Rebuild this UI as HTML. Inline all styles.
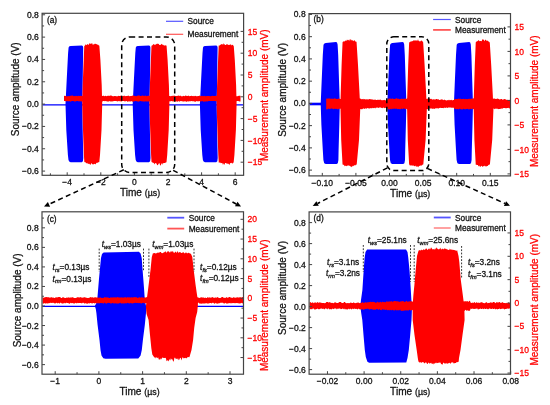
<!DOCTYPE html>
<html><head><meta charset="utf-8"><style>
html,body{margin:0;padding:0;background:#fff;overflow:hidden;}
text{stroke-width:0.28px;stroke-linejoin:round;}
svg{display:block;}
</style></head><body>
<svg width="550" height="405" viewBox="0 0 550 405" font-family='"Liberation Sans", Arial, sans-serif'>
<rect width="550" height="405" fill="#fff"/>
<line x1="42.60" y1="104.90" x2="243.00" y2="104.90" stroke="#0000ff" stroke-width="1.1" />
<polygon points="70.8,45.9 81.8,45.6 82.8,46.1 83.2,47.5 82.8,75.0 82.3,104.0 82.7,130.0 83.3,158.0 82.9,161.3 81.8,162.2 70.6,162.3 69.2,161.6 68.5,160.0 67.9,155.0 66.3,130.0 65.5,104.0 66.7,80.0 68.1,53.0 68.6,47.4 69.4,46.3 70.8,45.9" fill="#0000ff" />
<polygon points="138.0,45.9 149.0,45.6 150.0,46.1 150.4,47.5 150.0,75.0 149.5,104.0 149.9,130.0 150.5,158.0 150.1,161.3 149.0,162.2 137.8,162.3 136.4,161.6 135.7,160.0 135.1,155.0 133.5,130.0 132.7,104.0 133.9,80.0 135.3,53.0 135.8,47.4 136.6,46.3 138.0,45.9" fill="#0000ff" />
<polygon points="205.2,45.9 216.2,45.6 217.2,46.1 217.6,47.5 217.2,75.0 216.7,104.0 217.1,130.0 217.7,158.0 217.3,161.3 216.2,162.2 205.0,162.3 203.6,161.6 202.9,160.0 202.3,155.0 200.7,130.0 199.9,104.0 201.1,80.0 202.5,53.0 203.0,47.4 203.8,46.3 205.2,45.9" fill="#0000ff" />
<polygon points="64.0,96.0 64.8,95.8 65.6,95.9 66.4,96.3 67.2,96.3 68.0,96.2 68.8,96.0 69.6,96.2 70.4,95.8 71.2,95.8 72.0,95.5 72.8,95.6 73.6,96.2 74.4,96.1 75.2,96.2 76.0,95.8 76.8,95.9 77.6,96.3 78.4,95.8 79.2,96.0 80.0,95.9 80.8,95.7 81.7,96.1 82.5,95.9 83.3,95.7 84.1,95.5 84.9,96.0 85.7,96.2 86.5,96.3 87.3,95.7 88.1,95.6 88.9,95.7 89.7,95.8 90.5,95.6 91.3,95.9 92.1,96.3 92.9,95.8 93.7,95.6 94.5,96.0 95.3,96.3 96.1,96.2 96.9,96.3 97.7,96.2 98.5,96.0 99.3,96.2 100.1,95.9 100.9,95.6 101.7,96.1 102.5,96.0 103.3,95.5 104.1,96.2 104.9,96.1 105.7,95.8 106.5,96.3 107.3,96.0 108.1,95.5 108.9,95.9 109.7,95.8 110.5,95.6 111.3,95.6 112.1,96.0 112.9,96.2 113.7,96.3 114.5,96.1 115.3,96.0 116.1,96.3 117.0,96.2 117.8,96.3 118.6,95.8 119.4,96.1 120.2,96.0 121.0,95.6 121.8,95.9 122.6,96.2 123.4,96.0 124.2,95.6 125.0,96.3 125.8,95.9 126.6,95.9 127.4,95.9 128.2,95.6 129.0,96.1 129.8,96.2 130.6,95.9 131.4,96.0 132.2,95.7 133.0,95.6 133.8,95.6 134.6,96.1 135.4,96.0 136.2,96.3 137.0,96.1 137.8,95.5 138.6,95.6 139.4,95.5 140.2,96.1 141.0,96.1 141.8,95.8 142.6,95.6 143.4,95.8 144.2,96.2 145.0,95.6 145.8,95.7 146.6,96.2 147.4,96.0 148.2,95.5 149.0,96.0 149.8,95.7 150.6,96.2 151.4,95.6 152.2,96.2 153.1,95.5 153.9,96.0 154.7,96.2 155.5,95.5 156.3,95.9 157.1,96.0 157.9,95.6 158.7,96.1 159.5,96.1 160.3,96.1 161.1,96.2 161.9,96.0 162.7,95.8 163.5,96.0 164.3,95.9 165.1,95.9 165.9,95.9 166.7,96.3 167.5,96.2 168.3,95.7 169.1,96.0 169.9,95.9 170.7,96.2 171.5,96.1 172.3,95.7 173.1,95.9 173.9,95.6 174.7,95.8 175.5,95.9 176.3,95.9 177.1,95.9 177.9,95.7 178.7,95.5 179.5,95.9 180.3,95.6 181.1,96.2 181.9,96.2 182.7,96.2 183.5,95.7 184.3,96.2 185.1,95.8 185.9,95.6 186.7,96.1 187.6,96.0 188.4,95.5 189.2,96.2 190.0,95.9 190.8,96.1 191.6,95.7 192.4,95.9 193.2,96.3 194.0,95.8 194.8,96.2 195.6,95.7 196.4,96.2 197.2,96.3 198.0,96.1 198.8,96.0 199.6,95.6 200.4,96.2 201.2,95.8 202.0,96.2 202.8,95.7 203.6,96.2 204.4,95.8 205.2,96.2 206.0,96.2 206.8,95.9 207.6,95.9 208.4,96.1 209.2,95.9 210.0,96.2 210.8,96.3 211.6,96.1 212.4,95.7 213.2,95.9 214.0,96.0 214.8,96.1 215.6,95.7 216.4,96.1 217.2,95.6 218.0,95.6 218.8,95.9 219.6,96.0 220.4,95.7 221.2,96.0 222.0,95.7 222.8,96.0 223.7,96.3 224.5,96.2 225.3,96.1 226.1,96.2 226.9,95.6 227.7,96.1 228.5,96.1 229.3,96.2 230.1,96.1 230.9,95.5 231.7,96.1 232.5,96.1 233.3,96.3 234.1,95.9 234.9,96.1 235.7,96.3 236.5,96.2 237.3,96.3 238.1,96.1 238.9,95.8 239.7,95.7 240.5,95.7 240.5,101.6 239.7,101.4 238.9,101.3 238.1,101.1 237.3,100.9 236.5,101.2 235.7,101.1 234.9,101.3 234.1,101.3 233.3,101.2 232.5,101.2 231.7,101.7 230.9,101.3 230.1,101.7 229.3,101.3 228.5,101.3 227.7,101.1 226.9,101.4 226.1,101.6 225.3,101.0 224.5,101.5 223.7,101.0 222.8,101.2 222.0,101.4 221.2,101.6 220.4,101.7 219.6,101.3 218.8,101.6 218.0,101.2 217.2,101.0 216.4,101.3 215.6,101.3 214.8,100.9 214.0,100.9 213.2,101.0 212.4,101.1 211.6,101.1 210.8,101.1 210.0,101.0 209.2,101.1 208.4,101.0 207.6,101.6 206.8,101.2 206.0,101.6 205.2,101.6 204.4,101.5 203.6,101.7 202.8,101.2 202.0,100.9 201.2,101.5 200.4,101.6 199.6,101.1 198.8,101.6 198.0,101.0 197.2,101.5 196.4,101.1 195.6,101.7 194.8,101.7 194.0,101.3 193.2,101.2 192.4,101.3 191.6,100.9 190.8,101.2 190.0,101.2 189.2,101.2 188.4,101.6 187.6,101.3 186.7,101.7 185.9,101.7 185.1,101.0 184.3,101.5 183.5,101.6 182.7,101.4 181.9,101.1 181.1,101.3 180.3,101.0 179.5,101.7 178.7,101.1 177.9,101.6 177.1,101.7 176.3,101.3 175.5,101.5 174.7,101.3 173.9,101.3 173.1,101.5 172.3,101.3 171.5,101.1 170.7,101.3 169.9,101.5 169.1,101.3 168.3,101.3 167.5,101.3 166.7,101.5 165.9,101.0 165.1,100.9 164.3,101.3 163.5,101.6 162.7,101.6 161.9,101.3 161.1,101.6 160.3,101.2 159.5,101.4 158.7,101.1 157.9,101.1 157.1,101.6 156.3,101.6 155.5,101.4 154.7,100.9 153.9,101.3 153.1,101.4 152.2,101.6 151.4,101.5 150.6,101.0 149.8,101.0 149.0,101.7 148.2,101.2 147.4,101.5 146.6,101.5 145.8,101.3 145.0,101.5 144.2,101.4 143.4,101.5 142.6,101.3 141.8,101.6 141.0,101.1 140.2,101.1 139.4,101.2 138.6,101.7 137.8,101.3 137.0,101.5 136.2,101.1 135.4,100.9 134.6,101.3 133.8,101.5 133.0,101.5 132.2,101.7 131.4,101.1 130.6,101.5 129.8,101.5 129.0,101.2 128.2,101.5 127.4,101.7 126.6,100.9 125.8,101.0 125.0,101.7 124.2,101.0 123.4,101.1 122.6,101.0 121.8,101.3 121.0,101.7 120.2,101.0 119.4,101.2 118.6,101.0 117.8,101.6 117.0,101.2 116.1,101.0 115.3,100.9 114.5,101.0 113.7,101.0 112.9,101.4 112.1,101.2 111.3,101.5 110.5,101.5 109.7,100.9 108.9,101.4 108.1,101.5 107.3,101.4 106.5,101.2 105.7,101.1 104.9,101.3 104.1,101.1 103.3,101.0 102.5,101.6 101.7,101.2 100.9,101.6 100.1,101.6 99.3,101.3 98.5,101.6 97.7,101.1 96.9,101.5 96.1,101.0 95.3,101.3 94.5,101.4 93.7,101.1 92.9,101.7 92.1,101.5 91.3,101.4 90.5,101.7 89.7,101.3 88.9,101.4 88.1,101.2 87.3,101.4 86.5,101.4 85.7,101.3 84.9,101.5 84.1,101.0 83.3,101.1 82.5,101.6 81.7,101.4 80.8,101.5 80.0,101.1 79.2,101.4 78.4,101.2 77.6,101.1 76.8,101.0 76.0,101.2 75.2,101.4 74.4,101.6 73.6,101.0 72.8,101.1 72.0,100.9 71.2,101.2 70.4,101.7 69.6,101.1 68.8,101.6 68.0,101.0 67.2,101.2 66.4,101.3 65.6,101.2 64.8,101.0 64.0,101.0" fill="#ff0000" />
<polygon points="84.3,45.2 84.3,46.0 85.0,45.5 85.7,44.3 86.4,45.3 87.2,44.3 87.9,44.3 88.6,45.1 89.3,43.5 90.0,43.2 90.7,43.9 91.4,43.6 92.2,43.3 92.9,44.9 93.6,44.2 94.3,44.3 95.0,43.6 95.7,43.9 96.4,44.1 97.2,44.8 97.9,44.5 98.6,45.2 99.3,45.7 99.3,45.0 100.4,60.0 101.7,85.0 102.2,104.0 101.5,130.0 100.0,155.0 99.2,163.0 99.2,161.9 98.5,162.3 97.8,162.5 97.1,162.9 96.4,162.8 95.7,164.4 95.0,163.8 94.3,164.1 93.6,164.2 92.9,164.4 92.2,163.9 91.4,163.0 90.7,164.8 90.0,164.6 89.3,163.8 88.6,163.7 87.9,163.9 87.2,162.7 86.5,163.6 85.8,162.6 85.1,162.3 84.4,161.9 84.4,163.0 83.9,155.0 83.0,130.0 82.2,104.0 82.7,85.0 83.7,60.0 84.3,45.2" fill="#ff0000" />
<polygon points="151.5,45.2 151.5,45.7 152.2,45.6 152.9,44.8 153.6,44.0 154.4,44.7 155.1,44.8 155.8,44.5 156.5,43.9 157.2,43.6 157.9,43.9 158.6,43.8 159.4,45.0 160.1,44.9 160.8,44.8 161.5,43.7 162.2,44.8 162.9,44.4 163.6,45.3 164.4,45.4 165.1,45.4 165.8,45.2 166.5,45.7 166.5,45.0 167.6,60.0 168.9,85.0 169.4,104.0 168.7,130.0 167.2,155.0 166.4,163.0 166.4,162.3 165.7,162.4 165.0,163.0 164.3,163.1 163.6,163.3 162.9,162.9 162.2,164.7 161.5,163.1 160.8,165.4 160.1,165.3 159.4,163.0 158.6,163.8 157.9,164.9 157.2,165.3 156.5,163.6 155.8,163.2 155.1,163.0 154.4,164.4 153.7,162.7 153.0,163.1 152.3,162.3 151.6,162.1 151.6,163.0 151.1,155.0 150.2,130.0 149.4,104.0 149.9,85.0 150.9,60.0 151.5,45.2" fill="#ff0000" />
<polygon points="218.7,45.2 218.7,45.5 219.4,45.7 220.1,44.6 220.8,44.9 221.6,43.9 222.3,44.1 223.0,44.9 223.7,43.3 224.4,44.3 225.1,45.0 225.8,45.0 226.6,44.2 227.3,44.3 228.0,44.7 228.7,45.0 229.4,44.7 230.1,44.9 230.8,44.0 231.6,45.4 232.3,44.7 233.0,44.9 233.7,46.2 233.7,45.0 234.8,60.0 236.1,85.0 236.6,104.0 235.9,130.0 234.4,155.0 233.6,163.0 233.6,162.6 232.9,163.0 232.2,163.7 231.5,162.8 230.8,163.1 230.1,163.3 229.4,165.1 228.7,164.0 228.0,163.5 227.3,163.7 226.6,163.4 225.8,163.0 225.1,163.1 224.4,164.9 223.7,163.3 223.0,164.9 222.3,163.0 221.6,163.0 220.9,163.2 220.2,162.6 219.5,162.5 218.8,162.7 218.8,163.0 218.3,155.0 217.4,130.0 216.6,104.0 217.1,85.0 218.1,60.0 218.7,45.2" fill="#ff0000" />
<line x1="309.50" y1="104.00" x2="323.00" y2="104.00" stroke="#0000ff" stroke-width="2.6" />
<polygon points="325.8,43.0 336.0,42.0 337.0,42.6 337.6,44.5 338.2,55.0 339.0,80.0 339.8,104.0 339.3,125.0 338.6,150.0 338.4,160.0 337.8,163.2 336.6,164.0 325.8,164.1 324.2,163.2 323.4,160.0 322.8,150.0 321.4,125.0 320.7,104.0 321.5,85.0 322.8,55.0 323.5,44.8 324.4,43.5 325.8,43.0" fill="#0000ff" />
<polygon points="392.4,43.0 402.6,42.0 403.6,42.6 404.2,44.5 404.8,55.0 405.6,80.0 406.4,104.0 405.9,125.0 405.2,150.0 405.0,160.0 404.4,163.2 403.2,164.0 392.4,164.1 390.8,163.2 390.0,160.0 389.4,150.0 388.0,125.0 387.3,104.0 388.1,85.0 389.4,55.0 390.1,44.8 391.0,43.5 392.4,43.0" fill="#0000ff" />
<polygon points="459.0,43.0 469.2,42.0 470.2,42.6 470.8,44.5 471.4,55.0 472.2,80.0 473.0,104.0 472.5,125.0 471.8,150.0 471.6,160.0 471.0,163.2 469.8,164.0 459.0,164.1 457.4,163.2 456.6,160.0 456.0,150.0 454.6,125.0 453.9,104.0 454.7,85.0 456.0,55.0 456.7,44.8 457.6,43.5 459.0,43.0" fill="#0000ff" />
<polygon points="326.2,98.4 327.0,98.7 327.8,98.4 328.6,98.6 329.4,98.6 330.2,98.5 331.0,99.0 331.8,98.4 332.6,98.8 333.4,99.0 334.2,98.3 335.0,98.6 335.8,98.7 336.6,99.1 337.4,99.1 338.2,98.8 339.0,98.4 339.8,98.9 340.6,98.9 341.4,98.8 342.3,98.9 343.1,98.5 343.9,98.4 344.7,98.7 345.5,98.7 346.3,99.0 347.1,98.1 347.9,98.6 348.7,98.2 349.5,98.8 350.3,98.7 351.1,98.1 351.9,98.2 352.7,99.1 353.5,98.2 354.3,98.5 355.1,98.7 355.9,98.3 356.7,98.1 357.5,99.0 358.3,98.6 359.1,98.2 359.9,98.5 360.7,98.8 361.5,99.3 362.3,99.2 363.1,98.8 363.9,99.4 364.7,98.9 365.5,99.5 366.3,99.2 367.1,99.4 367.9,99.2 368.7,99.6 369.5,99.0 370.3,99.1 371.1,99.8 371.9,99.1 372.8,99.8 373.6,99.7 374.4,99.8 375.2,99.6 376.0,100.1 376.8,100.1 377.6,99.8 378.4,99.7 379.2,100.0 380.0,99.5 380.8,99.7 381.6,100.3 382.4,100.2 383.2,100.0 384.0,100.3 384.8,99.8 385.6,100.4 386.4,100.3 387.2,100.4 388.0,99.2 388.8,98.4 389.6,98.6 390.4,98.4 391.2,99.1 392.0,98.6 392.8,98.6 393.6,98.9 394.4,99.1 395.2,99.0 396.0,98.3 396.8,98.3 397.6,98.9 398.4,98.5 399.2,99.3 400.0,98.9 400.8,99.1 401.6,98.4 402.4,98.9 403.3,98.5 404.1,99.3 404.9,98.4 405.7,98.6 406.5,99.0 407.3,98.1 408.1,98.8 408.9,98.8 409.7,99.1 410.5,98.2 411.3,98.2 412.1,98.9 412.9,98.1 413.7,98.7 414.5,98.7 415.3,98.2 416.1,98.3 416.9,98.3 417.7,98.5 418.5,98.8 419.3,98.3 420.1,98.9 420.9,98.9 421.7,99.1 422.5,98.8 423.3,98.2 424.1,98.8 424.9,99.0 425.7,98.4 426.5,98.9 427.3,98.7 428.1,98.6 428.9,98.8 429.7,98.6 430.5,99.0 431.3,98.8 432.1,99.4 432.9,99.5 433.8,99.2 434.6,99.4 435.4,99.4 436.2,99.1 437.0,99.0 437.8,99.6 438.6,99.2 439.4,100.1 440.2,100.1 441.0,99.3 441.8,99.4 442.6,99.5 443.4,100.2 444.2,99.5 445.0,99.9 445.8,100.3 446.6,100.4 447.4,100.2 448.2,99.8 449.0,100.5 449.8,99.8 450.6,100.2 451.4,99.7 452.2,100.4 453.0,100.1 453.8,99.9 454.6,99.1 455.4,98.9 456.2,99.0 457.0,99.0 457.8,98.9 458.6,98.4 459.4,98.9 460.2,98.6 461.0,99.3 461.8,98.9 462.6,98.9 463.4,98.8 464.3,99.3 465.1,98.7 465.9,99.2 466.7,98.9 467.5,99.2 468.3,98.8 469.1,99.2 469.9,98.5 470.7,99.1 471.5,98.4 472.3,98.8 473.1,98.4 473.9,98.2 474.7,98.3 475.5,98.3 476.3,98.7 477.1,98.3 477.9,98.9 478.7,98.6 479.5,99.0 480.3,98.4 481.1,99.1 481.9,98.3 482.7,98.3 483.5,98.5 484.3,98.5 485.1,98.7 485.9,98.7 486.7,98.7 487.5,99.1 488.3,98.6 489.1,98.3 489.9,98.6 490.7,98.6 491.5,99.0 492.3,99.0 493.1,98.6 493.9,98.7 494.8,98.6 495.6,98.9 496.4,99.0 497.2,98.6 498.0,98.7 498.8,98.9 499.6,99.5 500.4,99.3 501.2,98.9 502.0,99.1 502.8,99.9 503.6,99.2 504.4,99.1 505.2,99.3 506.0,99.6 506.8,100.0 507.6,99.8 508.4,100.3 509.2,100.2 510.0,99.7 510.0,108.3 509.2,108.4 508.4,107.7 507.6,107.9 506.8,107.9 506.0,108.6 505.2,107.9 504.4,108.0 503.6,108.0 502.8,108.2 502.0,108.9 501.2,108.2 500.4,109.0 499.6,109.1 498.8,109.0 498.0,109.2 497.2,108.4 496.4,108.7 495.6,108.4 494.8,109.2 493.9,108.6 493.1,108.7 492.3,109.1 491.5,109.1 490.7,108.8 489.9,108.9 489.1,109.5 488.3,108.9 487.5,109.3 486.7,109.1 485.9,109.4 485.1,109.3 484.3,109.0 483.5,109.3 482.7,108.8 481.9,108.7 481.1,109.3 480.3,109.6 479.5,108.9 478.7,109.1 477.9,109.1 477.1,108.9 476.3,109.5 475.5,108.9 474.7,108.9 473.9,109.3 473.1,108.9 472.3,108.6 471.5,109.5 470.7,108.6 469.9,109.5 469.1,109.0 468.3,109.4 467.5,108.8 466.7,109.0 465.9,109.1 465.1,109.4 464.3,109.1 463.4,108.7 462.6,109.4 461.8,109.3 461.0,109.4 460.2,108.7 459.4,108.7 458.6,109.5 457.8,108.9 457.0,109.1 456.2,109.5 455.4,108.8 454.6,109.2 453.8,107.4 453.0,107.9 452.2,107.4 451.4,107.8 450.6,107.5 449.8,107.5 449.0,107.6 448.2,107.5 447.4,107.9 446.6,107.5 445.8,107.7 445.0,107.9 444.2,107.4 443.4,108.2 442.6,107.9 441.8,107.9 441.0,108.1 440.2,107.8 439.4,107.9 438.6,108.6 437.8,108.6 437.0,107.9 436.2,108.5 435.4,108.2 434.6,109.0 433.8,108.4 432.9,109.0 432.1,108.4 431.3,108.4 430.5,108.6 429.7,108.6 428.9,108.5 428.1,109.3 427.3,109.2 426.5,109.1 425.7,109.1 424.9,109.2 424.1,108.8 423.3,109.7 422.5,109.7 421.7,109.3 420.9,108.8 420.1,109.5 419.3,108.8 418.5,109.1 417.7,109.0 416.9,109.5 416.1,109.4 415.3,108.9 414.5,109.2 413.7,109.0 412.9,109.7 412.1,109.2 411.3,108.7 410.5,109.3 409.7,109.5 408.9,109.0 408.1,109.4 407.3,109.3 406.5,108.8 405.7,109.4 404.9,108.8 404.1,108.6 403.3,108.5 402.4,109.3 401.6,108.5 400.8,108.9 400.0,109.4 399.2,109.0 398.4,108.9 397.6,109.3 396.8,108.7 396.0,108.6 395.2,108.9 394.4,108.5 393.6,108.8 392.8,108.9 392.0,108.5 391.2,109.4 390.4,108.8 389.6,109.5 388.8,109.4 388.0,108.9 387.2,107.4 386.4,108.3 385.6,107.7 384.8,108.2 384.0,107.7 383.2,107.5 382.4,108.3 381.6,108.1 380.8,107.5 380.0,107.6 379.2,107.5 378.4,108.0 377.6,107.5 376.8,107.8 376.0,107.5 375.2,108.4 374.4,107.8 373.6,108.3 372.8,107.7 371.9,108.4 371.1,108.0 370.3,108.3 369.5,108.5 368.7,108.4 367.9,108.0 367.1,108.3 366.3,108.7 365.5,108.2 364.7,108.9 363.9,108.5 363.1,108.6 362.3,109.3 361.5,109.2 360.7,109.1 359.9,109.5 359.1,109.4 358.3,109.4 357.5,108.9 356.7,108.9 355.9,109.6 355.1,109.6 354.3,108.7 353.5,109.2 352.7,109.4 351.9,108.7 351.1,109.5 350.3,109.1 349.5,108.9 348.7,108.9 347.9,109.3 347.1,108.8 346.3,109.0 345.5,109.0 344.7,109.2 343.9,109.1 343.1,109.6 342.3,109.0 341.4,108.8 340.6,108.8 339.8,108.6 339.0,109.5 338.2,108.7 337.4,109.4 336.6,108.7 335.8,108.9 335.0,108.8 334.2,108.8 333.4,109.2 332.6,108.8 331.8,108.6 331.0,108.5 330.2,109.1 329.4,109.0 328.6,108.5 327.8,109.0 327.0,109.4 326.2,109.3" fill="#ff0000" />
<polygon points="342.6,41.2 342.6,42.3 343.3,41.2 344.1,41.7 344.8,41.0 345.5,40.5 346.3,40.9 347.0,39.6 347.7,40.3 348.5,40.2 349.2,39.2 349.9,41.1 350.6,38.9 351.4,40.1 352.1,40.8 352.8,40.0 353.6,41.2 354.3,40.0 355.0,41.1 355.8,41.7 356.5,41.8 356.5,41.2 358.0,65.0 359.6,95.0 360.2,110.0 359.0,140.0 356.6,165.4 356.6,164.4 355.9,164.7 355.2,165.6 354.5,165.0 353.8,166.3 353.1,165.4 352.4,166.3 351.7,167.3 351.0,166.3 350.3,166.6 349.6,165.8 348.9,165.4 348.2,165.4 347.5,165.5 346.8,166.2 346.1,165.7 345.4,165.7 344.7,166.2 344.0,164.9 343.3,164.8 342.6,164.6 342.6,165.4 341.2,140.0 340.4,104.0 341.6,65.0 342.6,41.2" fill="#ff0000" />
<polygon points="409.2,41.2 409.2,42.4 409.9,41.9 410.7,41.4 411.4,41.5 412.1,41.1 412.9,41.2 413.6,40.3 414.3,40.2 415.1,41.0 415.8,40.0 416.5,40.4 417.2,41.1 418.0,39.2 418.7,41.0 419.4,41.3 420.2,41.4 420.9,40.8 421.6,40.6 422.4,41.2 423.1,42.2 423.1,41.2 424.6,65.0 426.2,95.0 426.8,110.0 425.6,140.0 423.2,165.4 423.2,164.3 422.5,164.7 421.8,165.5 421.1,165.6 420.4,165.5 419.7,166.1 419.0,165.8 418.3,167.2 417.6,166.7 416.9,165.7 416.2,167.3 415.5,165.4 414.8,166.2 414.1,165.9 413.4,165.5 412.7,165.2 412.0,166.2 411.3,165.0 410.6,165.4 409.9,165.6 409.2,164.2 409.2,165.4 407.8,140.0 407.0,104.0 408.2,65.0 409.2,41.2" fill="#ff0000" />
<polygon points="475.8,41.2 475.8,42.3 476.5,41.4 477.3,41.2 478.0,40.8 478.7,40.1 479.5,41.2 480.2,40.9 480.9,40.9 481.7,41.2 482.4,39.2 483.1,39.5 483.8,39.8 484.6,41.3 485.3,39.6 486.0,40.1 486.8,40.9 487.5,40.6 488.2,41.3 489.0,41.8 489.7,42.4 489.7,41.2 491.2,65.0 492.8,95.0 493.4,110.0 492.2,140.0 489.8,165.4 489.8,164.3 489.1,164.7 488.4,165.1 487.7,165.9 487.0,166.1 486.3,166.6 485.6,166.4 484.9,165.6 484.2,166.2 483.5,166.0 482.8,166.9 482.1,166.2 481.4,165.7 480.7,166.4 480.0,167.1 479.3,165.4 478.6,166.4 477.9,165.0 477.2,165.0 476.5,164.8 475.8,164.7 475.8,165.4 474.4,140.0 473.6,104.0 474.8,65.0 475.8,41.2" fill="#ff0000" />
<line x1="42.60" y1="306.30" x2="243.00" y2="306.30" stroke="#0000ff" stroke-width="1.3" />
<polygon points="103.6,252.4 138.9,251.8 140.6,253.6 141.7,258.0 142.6,270.0 144.0,288.0 144.8,300.0 146.0,306.0 146.3,310.0 144.8,325.0 142.9,340.0 141.8,350.0 140.6,355.5 138.3,358.6 105.5,358.8 103.3,358.2 101.5,355.5 100.5,350.0 99.5,340.0 97.6,325.0 96.4,313.0 95.8,309.0 94.8,306.1 96.2,303.5 97.4,298.0 98.9,280.0 100.2,266.0 101.0,258.0 102.0,254.0 103.6,252.4" fill="#0000ff" />
<polygon points="42.6,297.1 43.4,297.7 44.2,297.7 45.0,297.1 45.8,297.3 46.6,297.0 47.4,297.2 48.2,297.2 49.0,297.3 49.8,297.8 50.6,297.4 51.4,297.1 52.2,298.1 53.0,297.1 53.8,297.9 54.6,298.1 55.4,297.4 56.2,297.3 57.0,297.5 57.8,297.2 58.6,297.1 59.4,297.1 60.2,297.1 61.0,297.9 61.8,298.1 62.6,297.2 63.4,297.2 64.2,297.8 65.0,298.0 65.8,297.9 66.6,297.6 67.4,297.8 68.3,297.3 69.1,297.7 69.9,297.5 70.7,297.4 71.5,297.6 72.3,297.2 73.1,297.3 73.9,297.9 74.7,298.0 75.5,297.9 76.3,297.9 77.1,297.0 77.9,297.6 78.7,297.2 79.5,297.6 80.3,297.2 81.1,297.1 81.9,297.9 82.7,297.6 83.5,297.4 84.3,297.2 85.1,297.2 85.9,297.7 86.7,297.7 87.5,298.0 88.3,298.1 89.1,297.8 89.9,297.5 90.7,297.1 91.5,297.6 92.3,297.3 93.1,297.4 93.9,297.7 94.7,297.2 95.5,297.3 96.3,297.6 97.1,297.5 97.9,297.6 98.7,297.8 99.5,297.8 100.3,297.2 101.1,297.9 101.9,297.7 102.7,297.9 103.5,297.9 104.3,297.3 105.1,297.0 105.9,297.7 106.7,297.2 107.5,297.6 108.3,297.4 109.1,297.9 109.9,298.1 110.7,297.2 111.5,297.5 112.3,297.6 113.1,297.4 113.9,297.3 114.7,297.6 115.5,297.3 116.3,297.8 117.1,297.1 118.0,297.3 118.8,297.4 119.6,297.6 120.4,297.4 121.2,297.6 122.0,297.3 122.8,297.8 123.6,297.6 124.4,297.6 125.2,297.1 126.0,297.4 126.8,297.7 127.6,297.0 128.4,297.5 129.2,297.2 130.0,297.5 130.8,297.5 131.6,297.3 132.4,297.4 133.2,297.5 134.0,297.1 134.8,297.3 135.6,297.3 136.4,297.0 137.2,298.0 138.0,297.7 138.8,297.6 139.6,297.3 140.4,297.8 141.2,297.3 142.0,297.5 142.8,297.2 143.6,297.9 144.4,297.2 145.2,297.4 146.0,297.5 146.8,297.0 147.6,297.4 148.4,297.2 149.2,297.8 150.0,298.0 150.8,297.7 151.6,297.8 152.4,297.8 153.2,297.9 154.0,297.3 154.8,297.8 155.6,297.6 156.4,297.4 157.2,297.7 158.0,297.2 158.8,297.2 159.6,297.2 160.4,297.2 161.2,298.1 162.0,297.1 162.8,297.8 163.6,297.9 164.4,297.2 165.2,297.9 166.0,297.2 166.8,297.1 167.6,297.2 168.5,297.1 169.3,297.2 170.1,297.3 170.9,297.3 171.7,297.1 172.5,297.8 173.3,297.9 174.1,298.0 174.9,297.9 175.7,297.6 176.5,297.2 177.3,297.2 178.1,297.5 178.9,297.2 179.7,297.6 180.5,298.0 181.3,297.4 182.1,297.4 182.9,297.1 183.7,297.0 184.5,297.6 185.3,298.1 186.1,297.4 186.9,297.2 187.7,297.6 188.5,297.3 189.3,297.6 190.1,297.5 190.9,297.8 191.7,297.7 192.5,297.8 193.3,297.0 194.1,297.2 194.9,297.8 195.7,297.5 196.5,297.2 197.3,297.3 198.1,297.5 198.9,297.8 199.7,297.9 200.5,297.4 201.3,297.2 202.1,297.4 202.9,297.4 203.7,297.4 204.5,297.9 205.3,297.6 206.1,298.0 206.9,298.1 207.7,297.1 208.5,297.7 209.3,297.2 210.1,297.8 210.9,297.6 211.7,297.6 212.5,297.1 213.3,297.5 214.1,298.0 214.9,297.5 215.7,297.6 216.5,297.7 217.3,297.1 218.2,297.6 219.0,298.0 219.8,297.9 220.6,298.1 221.4,297.3 222.2,297.0 223.0,297.1 223.8,298.1 224.6,297.8 225.4,297.9 226.2,297.2 227.0,297.2 227.8,298.0 228.6,297.3 229.4,297.1 230.2,297.0 231.0,298.1 231.8,297.4 232.6,298.0 233.4,297.3 234.2,297.2 235.0,298.0 235.8,297.5 236.6,297.4 237.4,297.2 238.2,297.4 239.0,297.6 239.8,297.2 240.6,297.2 241.4,297.8 242.2,297.0 243.0,297.2 243.0,303.1 242.2,303.5 241.4,302.8 240.6,303.3 239.8,303.7 239.0,303.1 238.2,303.4 237.4,303.1 236.6,302.9 235.8,303.2 235.0,303.1 234.2,303.2 233.4,302.9 232.6,303.0 231.8,303.6 231.0,302.7 230.2,303.5 229.4,303.0 228.6,303.2 227.8,303.4 227.0,303.5 226.2,303.5 225.4,302.8 224.6,303.5 223.8,303.5 223.0,302.8 222.2,302.8 221.4,302.8 220.6,302.7 219.8,302.9 219.0,303.4 218.2,303.2 217.3,303.8 216.5,303.4 215.7,302.7 214.9,303.7 214.1,303.6 213.3,302.7 212.5,302.8 211.7,303.4 210.9,303.1 210.1,303.0 209.3,303.3 208.5,303.6 207.7,303.4 206.9,303.6 206.1,302.9 205.3,303.5 204.5,303.4 203.7,303.4 202.9,303.5 202.1,303.4 201.3,303.7 200.5,303.4 199.7,303.7 198.9,302.7 198.1,302.8 197.3,303.7 196.5,302.7 195.7,303.4 194.9,303.0 194.1,303.1 193.3,303.4 192.5,303.3 191.7,303.3 190.9,303.6 190.1,303.6 189.3,303.2 188.5,302.9 187.7,303.3 186.9,303.1 186.1,303.1 185.3,303.5 184.5,303.7 183.7,303.3 182.9,303.1 182.1,303.5 181.3,302.7 180.5,303.4 179.7,303.8 178.9,303.1 178.1,303.4 177.3,303.2 176.5,302.7 175.7,303.3 174.9,303.2 174.1,303.2 173.3,303.2 172.5,303.0 171.7,303.3 170.9,303.2 170.1,303.3 169.3,302.9 168.5,303.6 167.6,303.4 166.8,303.4 166.0,302.9 165.2,303.7 164.4,303.1 163.6,303.0 162.8,302.8 162.0,303.4 161.2,302.7 160.4,303.4 159.6,302.9 158.8,303.7 158.0,302.8 157.2,303.7 156.4,303.4 155.6,303.2 154.8,303.0 154.0,303.0 153.2,302.7 152.4,303.2 151.6,303.1 150.8,303.6 150.0,303.6 149.2,303.3 148.4,303.2 147.6,303.6 146.8,303.1 146.0,302.9 145.2,303.2 144.4,303.6 143.6,302.8 142.8,303.1 142.0,302.9 141.2,303.7 140.4,302.9 139.6,303.1 138.8,303.2 138.0,302.7 137.2,303.0 136.4,303.1 135.6,302.8 134.8,303.1 134.0,302.9 133.2,303.2 132.4,303.6 131.6,303.3 130.8,303.3 130.0,302.8 129.2,303.7 128.4,302.9 127.6,302.7 126.8,303.2 126.0,303.6 125.2,302.9 124.4,303.4 123.6,303.4 122.8,303.2 122.0,303.4 121.2,303.6 120.4,302.8 119.6,303.0 118.8,303.4 118.0,303.6 117.1,303.6 116.3,303.5 115.5,303.2 114.7,303.3 113.9,303.7 113.1,303.1 112.3,302.9 111.5,303.4 110.7,303.5 109.9,303.1 109.1,303.1 108.3,302.8 107.5,302.9 106.7,303.5 105.9,303.8 105.1,302.8 104.3,302.8 103.5,303.8 102.7,303.1 101.9,303.3 101.1,303.0 100.3,302.9 99.5,303.5 98.7,302.9 97.9,303.7 97.1,302.8 96.3,303.6 95.5,302.9 94.7,303.4 93.9,302.9 93.1,303.1 92.3,303.5 91.5,303.3 90.7,303.0 89.9,303.1 89.1,303.7 88.3,302.9 87.5,303.7 86.7,303.7 85.9,303.1 85.1,303.4 84.3,303.5 83.5,302.8 82.7,302.8 81.9,303.5 81.1,303.0 80.3,303.0 79.5,303.1 78.7,302.9 77.9,303.2 77.1,302.7 76.3,303.5 75.5,302.7 74.7,303.6 73.9,303.6 73.1,303.3 72.3,303.1 71.5,303.2 70.7,302.7 69.9,303.6 69.1,303.8 68.3,303.1 67.4,303.0 66.6,302.7 65.8,303.1 65.0,303.5 64.2,302.8 63.4,303.4 62.6,303.4 61.8,303.6 61.0,302.8 60.2,302.8 59.4,303.7 58.6,302.8 57.8,303.6 57.0,303.1 56.2,302.8 55.4,303.5 54.6,303.5 53.8,302.7 53.0,303.1 52.2,302.8 51.4,302.9 50.6,302.8 49.8,302.9 49.0,303.3 48.2,303.2 47.4,303.5 46.6,303.2 45.8,303.4 45.0,303.4 44.2,303.0 43.4,303.7 42.6,303.5" fill="#ff0000" />
<polygon points="153.0,253.0 153.0,253.8 153.7,253.1 154.4,253.1 155.1,253.2 155.8,253.4 156.5,253.2 157.3,252.4 158.0,253.1 158.7,252.6 159.4,252.6 160.1,252.0 160.8,252.1 161.5,253.0 162.2,253.2 162.9,252.9 163.6,252.6 164.4,252.3 165.1,251.6 165.8,251.4 166.5,253.0 167.2,251.5 167.9,251.5 168.6,251.3 169.3,252.1 170.0,252.7 170.7,251.3 171.4,251.4 172.2,251.8 172.9,251.1 173.6,252.6 174.3,253.0 175.0,252.1 175.7,251.5 176.4,252.9 177.1,251.7 177.8,251.3 178.5,252.9 179.2,252.2 180.0,252.1 180.7,252.6 181.4,253.0 182.1,253.0 182.8,252.2 183.5,252.2 184.2,252.9 184.9,253.4 185.6,252.5 186.3,252.6 187.1,253.4 187.8,253.1 188.5,252.8 189.2,253.0 189.9,253.6 190.6,253.9 190.6,253.0 192.3,257.0 193.7,270.0 195.6,285.0 196.6,292.0 197.8,300.0 197.9,305.0 197.2,312.0 195.6,318.0 194.2,328.0 193.1,340.0 191.5,350.0 189.4,357.2 189.4,357.2 188.7,357.0 188.0,357.2 187.3,357.3 186.6,358.4 185.8,357.8 185.1,358.3 184.4,358.0 183.7,358.4 183.0,357.6 182.3,357.6 181.6,360.6 180.9,358.3 180.1,357.7 179.4,359.4 178.7,360.2 178.0,357.9 177.3,359.4 176.6,358.5 175.9,359.2 175.2,357.8 174.4,357.8 173.7,361.7 173.0,361.0 172.3,359.2 171.6,359.5 170.9,358.3 170.2,360.5 169.5,358.9 168.7,361.4 168.0,360.3 167.3,360.5 166.6,361.2 165.9,358.2 165.2,357.7 164.5,358.0 163.8,357.9 163.0,357.7 162.3,357.6 161.6,358.8 160.9,359.8 160.2,358.3 159.5,359.7 158.8,359.4 158.1,357.3 157.3,358.2 156.6,357.6 155.9,357.1 155.2,358.4 154.5,356.8 154.5,357.8 152.3,354.6 151.3,348.0 150.0,335.0 148.6,320.0 146.6,314.0 145.9,307.0 146.4,302.0 148.0,290.0 150.5,270.0 151.8,257.0 153.0,253.0" fill="#ff0000" />
<polygon points="367.1,249.6 406.0,249.6 407.5,252.0 408.3,258.0 409.5,270.0 410.5,285.0 411.4,300.0 412.0,306.5 411.8,313.0 411.5,320.0 410.2,335.0 408.8,350.0 407.5,358.0 406.3,362.5 369.2,362.7 367.4,361.8 365.8,357.0 364.8,350.0 363.5,335.0 362.3,320.0 361.2,313.0 360.4,306.5 361.0,300.0 362.4,290.0 363.7,270.0 364.6,258.0 365.5,252.0 367.1,249.6" fill="#0000ff" />
<polygon points="309.6,302.6 310.4,302.1 311.2,302.8 312.0,303.1 312.8,302.0 313.6,303.2 314.4,302.8 315.2,302.1 316.0,303.2 316.8,302.4 317.6,302.0 318.4,303.1 319.2,302.1 320.0,302.9 320.8,302.3 321.6,302.9 322.4,303.1 323.2,303.1 324.0,303.1 324.8,303.3 325.6,303.0 326.4,302.1 327.2,302.1 328.0,302.1 328.8,302.7 329.6,302.1 330.4,302.5 331.2,302.9 332.0,302.7 332.8,303.1 333.6,303.2 334.4,302.6 335.3,302.2 336.1,302.8 336.9,302.9 337.7,302.9 338.5,302.7 339.3,302.1 340.1,302.0 340.9,302.1 341.7,303.0 342.5,302.9 343.3,303.0 344.1,302.0 344.9,302.1 345.7,302.9 346.5,303.2 347.3,302.9 348.1,303.3 348.9,302.9 349.7,303.3 350.5,302.6 351.3,302.7 352.1,303.0 352.9,303.1 353.7,302.3 354.5,303.0 355.3,303.2 356.1,302.7 356.9,303.0 357.7,302.4 358.5,302.5 359.3,303.2 360.1,302.7 360.9,303.1 361.7,302.7 362.5,302.0 363.3,303.1 364.1,302.5 364.9,302.7 365.7,301.9 366.5,302.8 367.3,302.2 368.1,302.3 368.9,302.3 369.7,302.0 370.5,301.8 371.3,301.9 372.1,301.9 372.9,301.7 373.7,302.1 374.5,302.1 375.3,302.7 376.1,302.4 376.9,302.6 377.7,301.6 378.5,302.5 379.3,302.4 380.1,301.8 380.9,301.9 381.7,302.4 382.5,301.6 383.3,302.3 384.1,301.8 385.0,302.3 385.8,302.2 386.6,301.3 387.4,301.6 388.2,302.1 389.0,301.1 389.8,301.8 390.6,301.6 391.4,301.0 392.2,301.8 393.0,301.8 393.8,300.9 394.6,301.0 395.4,301.0 396.2,301.4 397.0,300.9 397.8,301.5 398.6,301.5 399.4,301.9 400.2,301.3 401.0,301.8 401.8,301.0 402.6,301.2 403.4,300.9 404.2,302.0 405.0,301.7 405.8,301.6 406.6,300.8 407.4,301.7 408.2,301.4 409.0,301.6 409.8,301.2 410.6,301.2 411.4,301.3 412.2,301.4 413.0,301.8 413.8,301.8 414.6,301.5 415.4,301.7 416.2,301.3 417.0,301.2 417.8,301.2 418.6,301.1 419.4,301.3 420.2,301.4 421.0,301.7 421.8,301.3 422.6,301.2 423.4,301.5 424.2,301.7 425.0,301.4 425.8,300.7 426.6,301.0 427.4,301.9 428.2,301.4 429.0,301.5 429.8,301.0 430.6,301.7 431.4,301.0 432.2,301.6 433.0,301.1 433.8,300.9 434.6,301.3 435.5,301.0 436.3,301.4 437.1,301.1 437.9,301.8 438.7,302.0 439.5,301.2 440.3,300.7 441.1,301.5 441.9,300.9 442.7,301.5 443.5,301.4 444.3,301.6 445.1,301.3 445.9,301.6 446.7,300.9 447.5,301.4 448.3,301.6 449.1,301.3 449.9,301.9 450.7,301.6 451.5,300.9 452.3,301.7 453.1,300.8 453.9,301.9 454.7,301.4 455.5,301.0 456.3,300.7 457.1,301.3 457.9,301.5 458.7,301.2 459.5,300.8 460.3,301.3 461.1,301.5 461.9,301.3 462.7,300.9 463.5,301.4 464.3,301.2 465.1,301.6 465.9,300.9 466.7,301.6 467.5,300.9 468.3,301.9 469.1,301.1 469.9,300.7 470.7,302.8 471.5,302.9 472.3,302.6 473.1,303.1 473.9,302.5 474.7,302.0 475.5,303.2 476.3,302.3 477.1,302.4 477.9,302.9 478.7,302.5 479.5,303.0 480.3,302.6 481.1,302.5 481.9,302.0 482.7,302.8 483.5,303.1 484.3,303.2 485.2,303.1 486.0,302.2 486.8,302.3 487.6,303.3 488.4,302.9 489.2,302.8 490.0,303.0 490.8,302.1 491.6,302.8 492.4,302.8 493.2,302.1 494.0,302.1 494.8,302.5 495.6,303.2 496.4,302.2 497.2,302.1 498.0,302.9 498.8,302.1 499.6,302.1 500.4,302.8 501.2,303.0 502.0,302.2 502.8,302.3 503.6,303.1 504.4,303.1 505.2,302.9 506.0,303.2 506.8,302.8 507.6,303.2 508.4,302.2 509.2,303.0 510.0,302.9 510.0,308.6 509.2,308.5 508.4,308.8 507.6,308.5 506.8,308.8 506.0,309.0 505.2,309.0 504.4,309.6 503.6,308.8 502.8,308.6 502.0,308.9 501.2,308.7 500.4,309.2 499.6,308.6 498.8,308.9 498.0,309.1 497.2,309.4 496.4,308.7 495.6,309.5 494.8,308.6 494.0,308.9 493.2,309.1 492.4,308.4 491.6,308.9 490.8,309.1 490.0,308.4 489.2,308.5 488.4,309.2 487.6,309.3 486.8,308.4 486.0,309.1 485.2,309.0 484.3,308.4 483.5,309.3 482.7,308.5 481.9,309.0 481.1,309.0 480.3,308.6 479.5,308.9 478.7,309.2 477.9,309.4 477.1,308.3 476.3,308.7 475.5,308.8 474.7,309.1 473.9,308.8 473.1,309.1 472.3,308.5 471.5,309.0 470.7,308.5 469.9,310.8 469.1,310.7 468.3,310.8 467.5,310.3 466.7,310.9 465.9,309.8 465.1,310.3 464.3,310.9 463.5,310.2 462.7,310.9 461.9,310.3 461.1,310.1 460.3,309.7 459.5,310.5 458.7,310.1 457.9,310.1 457.1,310.5 456.3,310.3 455.5,310.3 454.7,310.8 453.9,310.3 453.1,309.6 452.3,310.2 451.5,310.8 450.7,310.7 449.9,310.8 449.1,310.4 448.3,309.8 447.5,309.8 446.7,310.2 445.9,310.6 445.1,310.1 444.3,310.1 443.5,310.5 442.7,310.2 441.9,310.4 441.1,310.6 440.3,310.3 439.5,310.2 438.7,310.6 437.9,310.7 437.1,310.8 436.3,310.6 435.5,310.6 434.6,310.6 433.8,310.7 433.0,310.4 432.2,310.1 431.4,309.8 430.6,310.8 429.8,309.7 429.0,310.2 428.2,309.7 427.4,310.7 426.6,309.8 425.8,310.0 425.0,310.0 424.2,310.3 423.4,310.7 422.6,309.6 421.8,310.1 421.0,309.9 420.2,310.0 419.4,310.4 418.6,310.2 417.8,309.9 417.0,310.3 416.2,310.7 415.4,309.7 414.6,310.0 413.8,310.0 413.0,309.8 412.2,310.3 411.4,309.9 410.6,310.8 409.8,309.8 409.0,310.0 408.2,310.8 407.4,310.3 406.6,310.4 405.8,310.3 405.0,310.5 404.2,310.4 403.4,310.8 402.6,310.7 401.8,310.8 401.0,310.9 400.2,309.6 399.4,310.2 398.6,310.3 397.8,310.4 397.0,309.8 396.2,310.7 395.4,309.5 394.6,310.5 393.8,310.5 393.0,310.0 392.2,309.7 391.4,310.4 390.6,309.8 389.8,310.4 389.0,309.8 388.2,310.3 387.4,310.2 386.6,309.4 385.8,309.9 385.0,309.7 384.1,309.5 383.3,309.7 382.5,309.1 381.7,310.2 380.9,309.9 380.1,309.8 379.3,309.0 378.5,309.9 377.7,309.0 376.9,309.2 376.1,309.1 375.3,310.1 374.5,309.5 373.7,309.5 372.9,310.0 372.1,308.8 371.3,309.2 370.5,309.1 369.7,309.8 368.9,308.8 368.1,309.2 367.3,308.6 366.5,309.1 365.7,309.0 364.9,308.8 364.1,309.7 363.3,309.7 362.5,309.1 361.7,309.5 360.9,309.5 360.1,309.3 359.3,309.3 358.5,308.6 357.7,309.4 356.9,309.1 356.1,308.7 355.3,309.1 354.5,308.4 353.7,309.2 352.9,308.5 352.1,309.0 351.3,309.5 350.5,308.5 349.7,309.4 348.9,308.5 348.1,309.3 347.3,309.6 346.5,309.2 345.7,309.5 344.9,308.4 344.1,309.6 343.3,308.8 342.5,308.6 341.7,308.9 340.9,309.2 340.1,308.4 339.3,308.4 338.5,308.7 337.7,308.5 336.9,309.4 336.1,308.5 335.3,308.6 334.4,308.5 333.6,309.2 332.8,308.6 332.0,309.1 331.2,309.4 330.4,308.9 329.6,309.4 328.8,308.4 328.0,308.5 327.2,309.4 326.4,308.6 325.6,308.3 324.8,309.2 324.0,309.2 323.2,308.6 322.4,308.9 321.6,308.6 320.8,308.4 320.0,309.1 319.2,309.2 318.4,309.3 317.6,308.4 316.8,309.1 316.0,309.3 315.2,309.4 314.4,309.5 313.6,308.6 312.8,308.6 312.0,309.6 311.2,308.9 310.4,309.2 309.6,309.1" fill="#ff0000" />
<polygon points="418.8,249.8 418.8,251.0 419.5,250.1 420.2,250.3 420.9,250.4 421.6,249.5 422.3,250.3 423.0,250.1 423.8,248.9 424.5,250.1 425.2,249.6 425.9,248.5 426.6,248.5 427.3,249.9 428.0,249.5 428.7,248.5 429.4,249.4 430.1,247.5 430.8,249.6 431.5,247.3 432.2,248.9 432.9,249.5 433.7,249.0 434.4,249.7 435.1,248.1 435.8,249.4 436.5,247.3 437.2,248.5 437.9,249.1 438.6,249.4 439.3,248.4 440.0,249.5 440.7,247.4 441.4,249.7 442.1,248.8 442.9,248.7 443.6,249.5 444.3,248.0 445.0,249.3 445.7,248.5 446.4,248.9 447.1,249.5 447.8,249.4 448.5,250.0 449.2,249.9 449.9,248.4 450.6,249.8 451.3,249.2 452.0,250.2 452.8,249.6 453.5,250.0 454.2,249.9 454.9,250.3 455.6,250.6 456.3,250.5 457.0,250.9 457.0,249.8 458.5,256.0 459.3,262.0 460.8,280.0 462.8,295.0 463.8,303.0 464.4,310.0 464.6,320.0 462.5,335.0 460.5,350.0 459.0,358.0 458.6,362.6 458.6,361.4 457.9,362.3 457.2,362.0 456.5,362.2 455.8,363.1 455.1,363.0 454.4,363.3 453.7,363.4 453.0,362.3 452.3,362.5 451.6,362.3 450.9,363.4 450.2,363.4 449.5,362.8 448.8,363.0 448.1,363.6 447.4,363.7 446.7,362.8 446.0,364.3 445.3,363.0 444.6,363.7 443.9,362.7 443.2,362.7 442.5,364.8 441.8,364.2 441.1,364.1 440.4,362.6 439.7,362.6 439.0,362.8 438.2,362.8 437.5,363.0 436.8,363.2 436.1,362.6 435.4,363.0 434.7,363.9 434.0,362.8 433.3,364.4 432.6,363.6 431.9,364.0 431.2,362.8 430.5,363.1 429.8,363.7 429.1,362.9 428.4,362.4 427.7,363.9 427.0,363.7 426.3,362.6 425.6,362.3 424.9,363.6 424.2,363.0 423.5,362.2 422.8,362.3 422.1,362.1 421.4,362.9 420.7,362.0 420.0,362.8 419.3,362.3 418.6,361.4 418.6,362.6 417.8,358.0 416.7,350.0 414.5,335.0 412.7,320.0 412.6,310.0 412.8,303.0 413.4,295.0 414.4,285.0 415.7,270.0 417.0,256.0 418.8,249.8" fill="#ff0000" />
<rect x="42.1" y="13.3" width="201.50" height="162.00" fill="none" stroke="#444" stroke-width="1.2"/>
<line x1="42.10" y1="14.78" x2="45.10" y2="14.78" stroke="#444" stroke-width="1" />
<text x="38.80" y="17.78" font-size="8.5" text-anchor="end" fill="#111" stroke="#111" >0.8</text>
<line x1="42.10" y1="37.11" x2="45.10" y2="37.11" stroke="#444" stroke-width="1" />
<text x="38.80" y="40.11" font-size="8.5" text-anchor="end" fill="#111" stroke="#111" >0.6</text>
<line x1="42.10" y1="59.44" x2="45.10" y2="59.44" stroke="#444" stroke-width="1" />
<text x="38.80" y="62.44" font-size="8.5" text-anchor="end" fill="#111" stroke="#111" >0.4</text>
<line x1="42.10" y1="81.77" x2="45.10" y2="81.77" stroke="#444" stroke-width="1" />
<text x="38.80" y="84.77" font-size="8.5" text-anchor="end" fill="#111" stroke="#111" >0.2</text>
<line x1="42.10" y1="104.10" x2="45.10" y2="104.10" stroke="#444" stroke-width="1" />
<text x="38.80" y="107.10" font-size="8.5" text-anchor="end" fill="#111" stroke="#111" >0.0</text>
<line x1="42.10" y1="126.43" x2="45.10" y2="126.43" stroke="#444" stroke-width="1" />
<text x="38.80" y="129.43" font-size="8.5" text-anchor="end" fill="#111" stroke="#111" >&#8722;0.2</text>
<line x1="42.10" y1="148.76" x2="45.10" y2="148.76" stroke="#444" stroke-width="1" />
<text x="38.80" y="151.76" font-size="8.5" text-anchor="end" fill="#111" stroke="#111" >&#8722;0.4</text>
<line x1="42.10" y1="171.09" x2="45.10" y2="171.09" stroke="#444" stroke-width="1" />
<text x="38.80" y="174.09" font-size="8.5" text-anchor="end" fill="#111" stroke="#111" >&#8722;0.6</text>
<line x1="42.10" y1="25.94" x2="44.10" y2="25.94" stroke="#444" stroke-width="1" />
<line x1="42.10" y1="48.27" x2="44.10" y2="48.27" stroke="#444" stroke-width="1" />
<line x1="42.10" y1="70.60" x2="44.10" y2="70.60" stroke="#444" stroke-width="1" />
<line x1="42.10" y1="92.93" x2="44.10" y2="92.93" stroke="#444" stroke-width="1" />
<line x1="42.10" y1="115.27" x2="44.10" y2="115.27" stroke="#444" stroke-width="1" />
<line x1="42.10" y1="137.59" x2="44.10" y2="137.59" stroke="#444" stroke-width="1" />
<line x1="42.10" y1="159.93" x2="44.10" y2="159.93" stroke="#444" stroke-width="1" />
<line x1="240.60" y1="31.40" x2="243.60" y2="31.40" stroke="#444" stroke-width="1" />
<text x="247.70" y="34.50" font-size="8.5" text-anchor="start" fill="#ff0000" stroke="#ff0000" >15</text>
<line x1="240.60" y1="53.20" x2="243.60" y2="53.20" stroke="#444" stroke-width="1" />
<text x="247.70" y="56.30" font-size="8.5" text-anchor="start" fill="#ff0000" stroke="#ff0000" >10</text>
<line x1="240.60" y1="75.00" x2="243.60" y2="75.00" stroke="#444" stroke-width="1" />
<text x="247.70" y="78.10" font-size="8.5" text-anchor="start" fill="#ff0000" stroke="#ff0000" >5</text>
<line x1="240.60" y1="96.80" x2="243.60" y2="96.80" stroke="#444" stroke-width="1" />
<text x="247.70" y="99.90" font-size="8.5" text-anchor="start" fill="#ff0000" stroke="#ff0000" >0</text>
<line x1="240.60" y1="118.60" x2="243.60" y2="118.60" stroke="#444" stroke-width="1" />
<text x="247.70" y="121.70" font-size="8.5" text-anchor="start" fill="#ff0000" stroke="#ff0000" >&#8722;5</text>
<line x1="240.60" y1="140.40" x2="243.60" y2="140.40" stroke="#444" stroke-width="1" />
<text x="247.70" y="143.50" font-size="8.5" text-anchor="start" fill="#ff0000" stroke="#ff0000" >&#8722;10</text>
<line x1="240.60" y1="162.20" x2="243.60" y2="162.20" stroke="#444" stroke-width="1" />
<text x="247.70" y="165.30" font-size="8.5" text-anchor="start" fill="#ff0000" stroke="#ff0000" >&#8722;15</text>
<line x1="241.60" y1="42.30" x2="243.60" y2="42.30" stroke="#444" stroke-width="1" />
<line x1="241.60" y1="64.10" x2="243.60" y2="64.10" stroke="#444" stroke-width="1" />
<line x1="241.60" y1="85.90" x2="243.60" y2="85.90" stroke="#444" stroke-width="1" />
<line x1="241.60" y1="107.70" x2="243.60" y2="107.70" stroke="#444" stroke-width="1" />
<line x1="241.60" y1="129.50" x2="243.60" y2="129.50" stroke="#444" stroke-width="1" />
<line x1="241.60" y1="151.30" x2="243.60" y2="151.30" stroke="#444" stroke-width="1" />
<line x1="67.20" y1="175.30" x2="67.20" y2="172.30" stroke="#444" stroke-width="1" />
<text x="67.20" y="185.30" font-size="8.5" text-anchor="middle" fill="#111" stroke="#111" >&#8722;4</text>
<line x1="100.80" y1="175.30" x2="100.80" y2="172.30" stroke="#444" stroke-width="1" />
<text x="100.80" y="185.30" font-size="8.5" text-anchor="middle" fill="#111" stroke="#111" >&#8722;2</text>
<line x1="134.40" y1="175.30" x2="134.40" y2="172.30" stroke="#444" stroke-width="1" />
<text x="134.40" y="185.30" font-size="8.5" text-anchor="middle" fill="#111" stroke="#111" >0</text>
<line x1="168.00" y1="175.30" x2="168.00" y2="172.30" stroke="#444" stroke-width="1" />
<text x="168.00" y="185.30" font-size="8.5" text-anchor="middle" fill="#111" stroke="#111" >2</text>
<line x1="201.60" y1="175.30" x2="201.60" y2="172.30" stroke="#444" stroke-width="1" />
<text x="201.60" y="185.30" font-size="8.5" text-anchor="middle" fill="#111" stroke="#111" >4</text>
<line x1="235.20" y1="175.30" x2="235.20" y2="172.30" stroke="#444" stroke-width="1" />
<text x="235.20" y="185.30" font-size="8.5" text-anchor="middle" fill="#111" stroke="#111" >6</text>
<line x1="50.40" y1="175.30" x2="50.40" y2="173.30" stroke="#444" stroke-width="1" />
<line x1="84.00" y1="175.30" x2="84.00" y2="173.30" stroke="#444" stroke-width="1" />
<line x1="117.60" y1="175.30" x2="117.60" y2="173.30" stroke="#444" stroke-width="1" />
<line x1="151.20" y1="175.30" x2="151.20" y2="173.30" stroke="#444" stroke-width="1" />
<line x1="184.80" y1="175.30" x2="184.80" y2="173.30" stroke="#444" stroke-width="1" />
<line x1="218.40" y1="175.30" x2="218.40" y2="173.30" stroke="#444" stroke-width="1" />
<rect x="309.0" y="13.6" width="201.50" height="162.30" fill="none" stroke="#444" stroke-width="1.2"/>
<line x1="309.00" y1="14.44" x2="312.00" y2="14.44" stroke="#444" stroke-width="1" />
<text x="305.70" y="17.44" font-size="8.5" text-anchor="end" fill="#111" stroke="#111" >0.8</text>
<line x1="309.00" y1="36.68" x2="312.00" y2="36.68" stroke="#444" stroke-width="1" />
<text x="305.70" y="39.68" font-size="8.5" text-anchor="end" fill="#111" stroke="#111" >0.6</text>
<line x1="309.00" y1="58.92" x2="312.00" y2="58.92" stroke="#444" stroke-width="1" />
<text x="305.70" y="61.92" font-size="8.5" text-anchor="end" fill="#111" stroke="#111" >0.4</text>
<line x1="309.00" y1="81.16" x2="312.00" y2="81.16" stroke="#444" stroke-width="1" />
<text x="305.70" y="84.16" font-size="8.5" text-anchor="end" fill="#111" stroke="#111" >0.2</text>
<line x1="309.00" y1="103.40" x2="312.00" y2="103.40" stroke="#444" stroke-width="1" />
<text x="305.70" y="106.40" font-size="8.5" text-anchor="end" fill="#111" stroke="#111" >0.0</text>
<line x1="309.00" y1="125.64" x2="312.00" y2="125.64" stroke="#444" stroke-width="1" />
<text x="305.70" y="128.64" font-size="8.5" text-anchor="end" fill="#111" stroke="#111" >&#8722;0.2</text>
<line x1="309.00" y1="147.88" x2="312.00" y2="147.88" stroke="#444" stroke-width="1" />
<text x="305.70" y="150.88" font-size="8.5" text-anchor="end" fill="#111" stroke="#111" >&#8722;0.4</text>
<line x1="309.00" y1="170.12" x2="312.00" y2="170.12" stroke="#444" stroke-width="1" />
<text x="305.70" y="173.12" font-size="8.5" text-anchor="end" fill="#111" stroke="#111" >&#8722;0.6</text>
<line x1="309.00" y1="25.56" x2="311.00" y2="25.56" stroke="#444" stroke-width="1" />
<line x1="309.00" y1="47.80" x2="311.00" y2="47.80" stroke="#444" stroke-width="1" />
<line x1="309.00" y1="70.04" x2="311.00" y2="70.04" stroke="#444" stroke-width="1" />
<line x1="309.00" y1="92.28" x2="311.00" y2="92.28" stroke="#444" stroke-width="1" />
<line x1="309.00" y1="114.52" x2="311.00" y2="114.52" stroke="#444" stroke-width="1" />
<line x1="309.00" y1="136.76" x2="311.00" y2="136.76" stroke="#444" stroke-width="1" />
<line x1="309.00" y1="159.00" x2="311.00" y2="159.00" stroke="#444" stroke-width="1" />
<line x1="507.50" y1="26.90" x2="510.50" y2="26.90" stroke="#444" stroke-width="1" />
<text x="514.60" y="30.00" font-size="8.5" text-anchor="start" fill="#ff0000" stroke="#ff0000" >15</text>
<line x1="507.50" y1="51.40" x2="510.50" y2="51.40" stroke="#444" stroke-width="1" />
<text x="514.60" y="54.50" font-size="8.5" text-anchor="start" fill="#ff0000" stroke="#ff0000" >10</text>
<line x1="507.50" y1="75.90" x2="510.50" y2="75.90" stroke="#444" stroke-width="1" />
<text x="514.60" y="79.00" font-size="8.5" text-anchor="start" fill="#ff0000" stroke="#ff0000" >5</text>
<line x1="507.50" y1="100.40" x2="510.50" y2="100.40" stroke="#444" stroke-width="1" />
<text x="514.60" y="103.50" font-size="8.5" text-anchor="start" fill="#ff0000" stroke="#ff0000" >0</text>
<line x1="507.50" y1="124.90" x2="510.50" y2="124.90" stroke="#444" stroke-width="1" />
<text x="514.60" y="128.00" font-size="8.5" text-anchor="start" fill="#ff0000" stroke="#ff0000" >&#8722;5</text>
<line x1="507.50" y1="149.40" x2="510.50" y2="149.40" stroke="#444" stroke-width="1" />
<text x="514.60" y="152.50" font-size="8.5" text-anchor="start" fill="#ff0000" stroke="#ff0000" >&#8722;10</text>
<line x1="507.50" y1="173.90" x2="510.50" y2="173.90" stroke="#444" stroke-width="1" />
<text x="514.60" y="177.00" font-size="8.5" text-anchor="start" fill="#ff0000" stroke="#ff0000" >&#8722;15</text>
<line x1="508.50" y1="39.15" x2="510.50" y2="39.15" stroke="#444" stroke-width="1" />
<line x1="508.50" y1="63.65" x2="510.50" y2="63.65" stroke="#444" stroke-width="1" />
<line x1="508.50" y1="88.15" x2="510.50" y2="88.15" stroke="#444" stroke-width="1" />
<line x1="508.50" y1="112.65" x2="510.50" y2="112.65" stroke="#444" stroke-width="1" />
<line x1="508.50" y1="137.15" x2="510.50" y2="137.15" stroke="#444" stroke-width="1" />
<line x1="508.50" y1="161.65" x2="510.50" y2="161.65" stroke="#444" stroke-width="1" />
<line x1="322.30" y1="175.90" x2="322.30" y2="172.90" stroke="#444" stroke-width="1" />
<text x="322.30" y="185.90" font-size="8.5" text-anchor="middle" fill="#111" stroke="#111" >&#8722;0.10</text>
<line x1="355.90" y1="175.90" x2="355.90" y2="172.90" stroke="#444" stroke-width="1" />
<text x="355.90" y="185.90" font-size="8.5" text-anchor="middle" fill="#111" stroke="#111" >&#8722;0.05</text>
<line x1="389.50" y1="175.90" x2="389.50" y2="172.90" stroke="#444" stroke-width="1" />
<text x="389.50" y="185.90" font-size="8.5" text-anchor="middle" fill="#111" stroke="#111" >0.00</text>
<line x1="423.10" y1="175.90" x2="423.10" y2="172.90" stroke="#444" stroke-width="1" />
<text x="423.10" y="185.90" font-size="8.5" text-anchor="middle" fill="#111" stroke="#111" >0.05</text>
<line x1="456.70" y1="175.90" x2="456.70" y2="172.90" stroke="#444" stroke-width="1" />
<text x="456.70" y="185.90" font-size="8.5" text-anchor="middle" fill="#111" stroke="#111" >0.10</text>
<line x1="490.30" y1="175.90" x2="490.30" y2="172.90" stroke="#444" stroke-width="1" />
<text x="490.30" y="185.90" font-size="8.5" text-anchor="middle" fill="#111" stroke="#111" >0.15</text>
<line x1="339.10" y1="175.90" x2="339.10" y2="173.90" stroke="#444" stroke-width="1" />
<line x1="372.70" y1="175.90" x2="372.70" y2="173.90" stroke="#444" stroke-width="1" />
<line x1="406.30" y1="175.90" x2="406.30" y2="173.90" stroke="#444" stroke-width="1" />
<line x1="439.90" y1="175.90" x2="439.90" y2="173.90" stroke="#444" stroke-width="1" />
<line x1="473.50" y1="175.90" x2="473.50" y2="173.90" stroke="#444" stroke-width="1" />
<rect x="42" y="211.8" width="201.50" height="162.40" fill="none" stroke="#444" stroke-width="1.2"/>
<line x1="42.00" y1="227.84" x2="45.00" y2="227.84" stroke="#444" stroke-width="1" />
<text x="38.70" y="230.84" font-size="8.5" text-anchor="end" fill="#111" stroke="#111" >0.8</text>
<line x1="42.00" y1="247.38" x2="45.00" y2="247.38" stroke="#444" stroke-width="1" />
<text x="38.70" y="250.38" font-size="8.5" text-anchor="end" fill="#111" stroke="#111" >0.6</text>
<line x1="42.00" y1="266.92" x2="45.00" y2="266.92" stroke="#444" stroke-width="1" />
<text x="38.70" y="269.92" font-size="8.5" text-anchor="end" fill="#111" stroke="#111" >0.4</text>
<line x1="42.00" y1="286.46" x2="45.00" y2="286.46" stroke="#444" stroke-width="1" />
<text x="38.70" y="289.46" font-size="8.5" text-anchor="end" fill="#111" stroke="#111" >0.2</text>
<line x1="42.00" y1="306.00" x2="45.00" y2="306.00" stroke="#444" stroke-width="1" />
<text x="38.70" y="309.00" font-size="8.5" text-anchor="end" fill="#111" stroke="#111" >0.0</text>
<line x1="42.00" y1="325.54" x2="45.00" y2="325.54" stroke="#444" stroke-width="1" />
<text x="38.70" y="328.54" font-size="8.5" text-anchor="end" fill="#111" stroke="#111" >&#8722;0.2</text>
<line x1="42.00" y1="345.08" x2="45.00" y2="345.08" stroke="#444" stroke-width="1" />
<text x="38.70" y="348.08" font-size="8.5" text-anchor="end" fill="#111" stroke="#111" >&#8722;0.4</text>
<line x1="42.00" y1="364.62" x2="45.00" y2="364.62" stroke="#444" stroke-width="1" />
<text x="38.70" y="367.62" font-size="8.5" text-anchor="end" fill="#111" stroke="#111" >&#8722;0.6</text>
<line x1="42.00" y1="218.07" x2="44.00" y2="218.07" stroke="#444" stroke-width="1" />
<line x1="42.00" y1="237.61" x2="44.00" y2="237.61" stroke="#444" stroke-width="1" />
<line x1="42.00" y1="257.15" x2="44.00" y2="257.15" stroke="#444" stroke-width="1" />
<line x1="42.00" y1="276.69" x2="44.00" y2="276.69" stroke="#444" stroke-width="1" />
<line x1="42.00" y1="296.23" x2="44.00" y2="296.23" stroke="#444" stroke-width="1" />
<line x1="42.00" y1="315.77" x2="44.00" y2="315.77" stroke="#444" stroke-width="1" />
<line x1="42.00" y1="335.31" x2="44.00" y2="335.31" stroke="#444" stroke-width="1" />
<line x1="42.00" y1="354.85" x2="44.00" y2="354.85" stroke="#444" stroke-width="1" />
<line x1="240.50" y1="219.30" x2="243.50" y2="219.30" stroke="#444" stroke-width="1" />
<text x="247.60" y="222.40" font-size="8.5" text-anchor="start" fill="#ff0000" stroke="#ff0000" >20</text>
<line x1="240.50" y1="239.05" x2="243.50" y2="239.05" stroke="#444" stroke-width="1" />
<text x="247.60" y="242.15" font-size="8.5" text-anchor="start" fill="#ff0000" stroke="#ff0000" >15</text>
<line x1="240.50" y1="258.80" x2="243.50" y2="258.80" stroke="#444" stroke-width="1" />
<text x="247.60" y="261.90" font-size="8.5" text-anchor="start" fill="#ff0000" stroke="#ff0000" >10</text>
<line x1="240.50" y1="278.55" x2="243.50" y2="278.55" stroke="#444" stroke-width="1" />
<text x="247.60" y="281.65" font-size="8.5" text-anchor="start" fill="#ff0000" stroke="#ff0000" >5</text>
<line x1="240.50" y1="298.30" x2="243.50" y2="298.30" stroke="#444" stroke-width="1" />
<text x="247.60" y="301.40" font-size="8.5" text-anchor="start" fill="#ff0000" stroke="#ff0000" >0</text>
<line x1="240.50" y1="318.05" x2="243.50" y2="318.05" stroke="#444" stroke-width="1" />
<text x="247.60" y="321.15" font-size="8.5" text-anchor="start" fill="#ff0000" stroke="#ff0000" >&#8722;5</text>
<line x1="240.50" y1="337.80" x2="243.50" y2="337.80" stroke="#444" stroke-width="1" />
<text x="247.60" y="340.90" font-size="8.5" text-anchor="start" fill="#ff0000" stroke="#ff0000" >&#8722;10</text>
<line x1="240.50" y1="357.55" x2="243.50" y2="357.55" stroke="#444" stroke-width="1" />
<text x="247.60" y="360.65" font-size="8.5" text-anchor="start" fill="#ff0000" stroke="#ff0000" >&#8722;15</text>
<line x1="241.50" y1="229.18" x2="243.50" y2="229.18" stroke="#444" stroke-width="1" />
<line x1="241.50" y1="248.93" x2="243.50" y2="248.93" stroke="#444" stroke-width="1" />
<line x1="241.50" y1="268.68" x2="243.50" y2="268.68" stroke="#444" stroke-width="1" />
<line x1="241.50" y1="288.43" x2="243.50" y2="288.43" stroke="#444" stroke-width="1" />
<line x1="241.50" y1="308.18" x2="243.50" y2="308.18" stroke="#444" stroke-width="1" />
<line x1="241.50" y1="327.93" x2="243.50" y2="327.93" stroke="#444" stroke-width="1" />
<line x1="241.50" y1="347.68" x2="243.50" y2="347.68" stroke="#444" stroke-width="1" />
<line x1="55.20" y1="374.20" x2="55.20" y2="371.20" stroke="#444" stroke-width="1" />
<text x="55.20" y="384.20" font-size="8.5" text-anchor="middle" fill="#111" stroke="#111" >&#8722;1</text>
<line x1="98.90" y1="374.20" x2="98.90" y2="371.20" stroke="#444" stroke-width="1" />
<text x="98.90" y="384.20" font-size="8.5" text-anchor="middle" fill="#111" stroke="#111" >0</text>
<line x1="142.60" y1="374.20" x2="142.60" y2="371.20" stroke="#444" stroke-width="1" />
<text x="142.60" y="384.20" font-size="8.5" text-anchor="middle" fill="#111" stroke="#111" >1</text>
<line x1="186.30" y1="374.20" x2="186.30" y2="371.20" stroke="#444" stroke-width="1" />
<text x="186.30" y="384.20" font-size="8.5" text-anchor="middle" fill="#111" stroke="#111" >2</text>
<line x1="230.00" y1="374.20" x2="230.00" y2="371.20" stroke="#444" stroke-width="1" />
<text x="230.00" y="384.20" font-size="8.5" text-anchor="middle" fill="#111" stroke="#111" >3</text>
<line x1="77.05" y1="374.20" x2="77.05" y2="372.20" stroke="#444" stroke-width="1" />
<line x1="120.75" y1="374.20" x2="120.75" y2="372.20" stroke="#444" stroke-width="1" />
<line x1="164.45" y1="374.20" x2="164.45" y2="372.20" stroke="#444" stroke-width="1" />
<line x1="208.15" y1="374.20" x2="208.15" y2="372.20" stroke="#444" stroke-width="1" />
<rect x="309.1" y="211.9" width="201.40" height="162.30" fill="none" stroke="#444" stroke-width="1.2"/>
<line x1="309.10" y1="222.60" x2="312.10" y2="222.60" stroke="#444" stroke-width="1" />
<text x="305.80" y="225.60" font-size="8.5" text-anchor="end" fill="#111" stroke="#111" >0.8</text>
<line x1="309.10" y1="243.60" x2="312.10" y2="243.60" stroke="#444" stroke-width="1" />
<text x="305.80" y="246.60" font-size="8.5" text-anchor="end" fill="#111" stroke="#111" >0.6</text>
<line x1="309.10" y1="264.60" x2="312.10" y2="264.60" stroke="#444" stroke-width="1" />
<text x="305.80" y="267.60" font-size="8.5" text-anchor="end" fill="#111" stroke="#111" >0.4</text>
<line x1="309.10" y1="285.60" x2="312.10" y2="285.60" stroke="#444" stroke-width="1" />
<text x="305.80" y="288.60" font-size="8.5" text-anchor="end" fill="#111" stroke="#111" >0.2</text>
<line x1="309.10" y1="306.60" x2="312.10" y2="306.60" stroke="#444" stroke-width="1" />
<text x="305.80" y="309.60" font-size="8.5" text-anchor="end" fill="#111" stroke="#111" >0.0</text>
<line x1="309.10" y1="327.60" x2="312.10" y2="327.60" stroke="#444" stroke-width="1" />
<text x="305.80" y="330.60" font-size="8.5" text-anchor="end" fill="#111" stroke="#111" >&#8722;0.2</text>
<line x1="309.10" y1="348.60" x2="312.10" y2="348.60" stroke="#444" stroke-width="1" />
<text x="305.80" y="351.60" font-size="8.5" text-anchor="end" fill="#111" stroke="#111" >&#8722;0.4</text>
<line x1="309.10" y1="369.60" x2="312.10" y2="369.60" stroke="#444" stroke-width="1" />
<text x="305.80" y="372.60" font-size="8.5" text-anchor="end" fill="#111" stroke="#111" >&#8722;0.6</text>
<line x1="309.10" y1="233.10" x2="311.10" y2="233.10" stroke="#444" stroke-width="1" />
<line x1="309.10" y1="254.10" x2="311.10" y2="254.10" stroke="#444" stroke-width="1" />
<line x1="309.10" y1="275.10" x2="311.10" y2="275.10" stroke="#444" stroke-width="1" />
<line x1="309.10" y1="296.10" x2="311.10" y2="296.10" stroke="#444" stroke-width="1" />
<line x1="309.10" y1="317.10" x2="311.10" y2="317.10" stroke="#444" stroke-width="1" />
<line x1="309.10" y1="338.10" x2="311.10" y2="338.10" stroke="#444" stroke-width="1" />
<line x1="309.10" y1="359.10" x2="311.10" y2="359.10" stroke="#444" stroke-width="1" />
<line x1="507.50" y1="232.95" x2="510.50" y2="232.95" stroke="#444" stroke-width="1" />
<text x="514.60" y="236.05" font-size="8.5" text-anchor="start" fill="#ff0000" stroke="#ff0000" >15</text>
<line x1="507.50" y1="256.30" x2="510.50" y2="256.30" stroke="#444" stroke-width="1" />
<text x="514.60" y="259.40" font-size="8.5" text-anchor="start" fill="#ff0000" stroke="#ff0000" >10</text>
<line x1="507.50" y1="279.65" x2="510.50" y2="279.65" stroke="#444" stroke-width="1" />
<text x="514.60" y="282.75" font-size="8.5" text-anchor="start" fill="#ff0000" stroke="#ff0000" >5</text>
<line x1="507.50" y1="303.00" x2="510.50" y2="303.00" stroke="#444" stroke-width="1" />
<text x="514.60" y="306.10" font-size="8.5" text-anchor="start" fill="#ff0000" stroke="#ff0000" >0</text>
<line x1="507.50" y1="326.35" x2="510.50" y2="326.35" stroke="#444" stroke-width="1" />
<text x="514.60" y="329.45" font-size="8.5" text-anchor="start" fill="#ff0000" stroke="#ff0000" >&#8722;5</text>
<line x1="507.50" y1="349.70" x2="510.50" y2="349.70" stroke="#444" stroke-width="1" />
<text x="514.60" y="352.80" font-size="8.5" text-anchor="start" fill="#ff0000" stroke="#ff0000" >&#8722;10</text>
<line x1="507.50" y1="373.05" x2="510.50" y2="373.05" stroke="#444" stroke-width="1" />
<text x="514.60" y="376.15" font-size="8.5" text-anchor="start" fill="#ff0000" stroke="#ff0000" >&#8722;15</text>
<line x1="508.50" y1="244.62" x2="510.50" y2="244.62" stroke="#444" stroke-width="1" />
<line x1="508.50" y1="267.98" x2="510.50" y2="267.98" stroke="#444" stroke-width="1" />
<line x1="508.50" y1="291.32" x2="510.50" y2="291.32" stroke="#444" stroke-width="1" />
<line x1="508.50" y1="314.68" x2="510.50" y2="314.68" stroke="#444" stroke-width="1" />
<line x1="508.50" y1="338.02" x2="510.50" y2="338.02" stroke="#444" stroke-width="1" />
<line x1="508.50" y1="361.38" x2="510.50" y2="361.38" stroke="#444" stroke-width="1" />
<line x1="327.46" y1="374.20" x2="327.46" y2="371.20" stroke="#444" stroke-width="1" />
<text x="327.46" y="384.20" font-size="8.5" text-anchor="middle" fill="#111" stroke="#111" >&#8722;0.02</text>
<line x1="364.10" y1="374.20" x2="364.10" y2="371.20" stroke="#444" stroke-width="1" />
<text x="364.10" y="384.20" font-size="8.5" text-anchor="middle" fill="#111" stroke="#111" >0.00</text>
<line x1="400.74" y1="374.20" x2="400.74" y2="371.20" stroke="#444" stroke-width="1" />
<text x="400.74" y="384.20" font-size="8.5" text-anchor="middle" fill="#111" stroke="#111" >0.02</text>
<line x1="437.38" y1="374.20" x2="437.38" y2="371.20" stroke="#444" stroke-width="1" />
<text x="437.38" y="384.20" font-size="8.5" text-anchor="middle" fill="#111" stroke="#111" >0.04</text>
<line x1="474.02" y1="374.20" x2="474.02" y2="371.20" stroke="#444" stroke-width="1" />
<text x="474.02" y="384.20" font-size="8.5" text-anchor="middle" fill="#111" stroke="#111" >0.06</text>
<line x1="510.66" y1="374.20" x2="510.66" y2="371.20" stroke="#444" stroke-width="1" />
<text x="510.66" y="384.20" font-size="8.5" text-anchor="middle" fill="#111" stroke="#111" >0.08</text>
<line x1="345.78" y1="374.20" x2="345.78" y2="372.20" stroke="#444" stroke-width="1" />
<line x1="382.42" y1="374.20" x2="382.42" y2="372.20" stroke="#444" stroke-width="1" />
<line x1="419.06" y1="374.20" x2="419.06" y2="372.20" stroke="#444" stroke-width="1" />
<line x1="455.70" y1="374.20" x2="455.70" y2="372.20" stroke="#444" stroke-width="1" />
<line x1="492.34" y1="374.20" x2="492.34" y2="372.20" stroke="#444" stroke-width="1" />
<line x1="166.00" y1="21.30" x2="183.20" y2="21.30" stroke="#5555ff" stroke-width="1.2" />
<line x1="166.00" y1="34.30" x2="183.20" y2="34.30" stroke="#ff5555" stroke-width="1.2" />
<text x="187.50" y="24.30" font-size="8.3" text-anchor="start" fill="#111" stroke="#111" >Source</text>
<text x="187.50" y="37.40" font-size="8.3" text-anchor="start" fill="#111" stroke="#111" >Measurement</text>
<line x1="433.10" y1="19.50" x2="450.80" y2="19.50" stroke="#5555ff" stroke-width="1.2" />
<line x1="433.10" y1="29.90" x2="450.80" y2="29.90" stroke="#ff5555" stroke-width="1.8" />
<text x="455.00" y="22.70" font-size="8.3" text-anchor="start" fill="#111" stroke="#111" >Source</text>
<text x="455.00" y="32.80" font-size="8.3" text-anchor="start" fill="#111" stroke="#111" >Measurement</text>
<line x1="167.30" y1="217.70" x2="184.20" y2="217.70" stroke="#5555ff" stroke-width="1.8" />
<line x1="167.30" y1="228.60" x2="184.20" y2="228.60" stroke="#ff5555" stroke-width="1.8" />
<text x="188.70" y="221.40" font-size="8.3" text-anchor="start" fill="#111" stroke="#111" >Source</text>
<text x="188.70" y="232.30" font-size="8.3" text-anchor="start" fill="#111" stroke="#111" >Measurement</text>
<line x1="433.80" y1="217.50" x2="450.70" y2="217.50" stroke="#5555ff" stroke-width="1.8" />
<line x1="433.80" y1="228.00" x2="450.70" y2="228.00" stroke="#ff5555" stroke-width="1.1" />
<text x="455.00" y="221.00" font-size="8.3" text-anchor="start" fill="#111" stroke="#111" >Source</text>
<text x="455.00" y="231.30" font-size="8.3" text-anchor="start" fill="#111" stroke="#111" >Measurement</text>
<text x="46.90" y="23.10" font-size="8.3" text-anchor="start" fill="#111" stroke="#111" >(a)</text>
<text x="313.60" y="22.30" font-size="8.3" text-anchor="start" fill="#111" stroke="#111" >(b)</text>
<text x="46.90" y="221.90" font-size="8.3" text-anchor="start" fill="#111" stroke="#111" >(c)</text>
<text x="313.60" y="220.90" font-size="8.3" text-anchor="start" fill="#111" stroke="#111" >(d)</text>
<text x="0" y="0" font-size="10.0" text-anchor="middle" fill="#111" stroke="#111" transform="translate(19.10,89.30) rotate(-90)">Source amplitude (V)</text>
<text x="0" y="0" font-size="10.0" text-anchor="middle" fill="#ff0000" stroke="#ff0000" transform="translate(267.80,95.25) rotate(-90)">Measurement amplitude (mV)</text>
<text x="0" y="0" font-size="10.0" text-anchor="middle" fill="#111" stroke="#111" transform="translate(285.60,89.90) rotate(-90)">Source amplitude (V)</text>
<text x="0" y="0" font-size="10.0" text-anchor="middle" fill="#ff0000" stroke="#ff0000" transform="translate(537.80,101.25) rotate(-90)">Measurement amplitude (mV)</text>
<text x="0" y="0" font-size="10.0" text-anchor="middle" fill="#111" stroke="#111" transform="translate(20.80,300.40) rotate(-90)">Source amplitude (V)</text>
<text x="0" y="0" font-size="10.0" text-anchor="middle" fill="#ff0000" stroke="#ff0000" transform="translate(267.80,305.25) rotate(-90)">Measurement amplitude (mV)</text>
<text x="0" y="0" font-size="10.0" text-anchor="middle" fill="#111" stroke="#111" transform="translate(285.60,288.00) rotate(-90)">Source amplitude (V)</text>
<text x="0" y="0" font-size="10.0" text-anchor="middle" fill="#ff0000" stroke="#ff0000" transform="translate(537.80,299.75) rotate(-90)">Measurement amplitude (mV)</text>
<text x="140.00" y="195.80" font-size="10.1" text-anchor="middle" fill="#111" stroke="#111">Time <tspan font-size="8.8">(&#181;s)</tspan></text>
<text x="410.20" y="196.50" font-size="10.1" text-anchor="middle" fill="#111" stroke="#111">Time <tspan font-size="8.8">(&#181;s)</tspan></text>
<text x="139.50" y="394.50" font-size="10.1" text-anchor="middle" fill="#111" stroke="#111">Time <tspan font-size="8.8">(&#181;s)</tspan></text>
<text x="410.20" y="394.50" font-size="10.1" text-anchor="middle" fill="#111" stroke="#111">Time <tspan font-size="8.8">(&#181;s)</tspan></text>
<text x="52.60" y="270.20" font-size="8.3" fill="#111" stroke="#111"><tspan font-style="italic">t</tspan><tspan font-style="italic" font-size="5.64" dy="1.8">rs</tspan><tspan dy="-1.8">=0.13&#181;s</tspan></text>
<text x="52.60" y="281.50" font-size="8.3" fill="#111" stroke="#111"><tspan font-style="italic">t</tspan><tspan font-style="italic" font-size="5.64" dy="1.8">rm</tspan><tspan dy="-1.8">=0.13&#181;s</tspan></text>
<text x="101.80" y="247.00" font-size="8.3" fill="#111" stroke="#111"><tspan font-style="italic">t</tspan><tspan font-style="italic" font-size="5.64" dy="1.8">ws</tspan><tspan dy="-1.8">=1.03&#181;s</tspan></text>
<text x="152.30" y="246.90" font-size="8.3" fill="#111" stroke="#111"><tspan font-style="italic">t</tspan><tspan font-style="italic" font-size="5.64" dy="1.8">wm</tspan><tspan dy="-1.8">=1.03&#181;s</tspan></text>
<text x="200.10" y="269.70" font-size="8.3" fill="#111" stroke="#111"><tspan font-style="italic">t</tspan><tspan font-style="italic" font-size="5.64" dy="1.8">fs</tspan><tspan dy="-1.8">=0.12&#181;s</tspan></text>
<text x="200.10" y="281.40" font-size="8.3" fill="#111" stroke="#111"><tspan font-style="italic">t</tspan><tspan font-style="italic" font-size="5.64" dy="1.8">fm</tspan><tspan dy="-1.8">=0.12&#181;s</tspan></text>
<text x="327.00" y="264.70" font-size="8.3" fill="#111" stroke="#111"><tspan font-style="italic">t</tspan><tspan font-style="italic" font-size="5.64" dy="1.8">rs</tspan><tspan dy="-1.8">=3.1ns</tspan></text>
<text x="326.00" y="276.30" font-size="8.3" fill="#111" stroke="#111"><tspan font-style="italic">t</tspan><tspan font-style="italic" font-size="5.64" dy="1.8">rm</tspan><tspan dy="-1.8">=3.2ns</tspan></text>
<text x="367.80" y="243.40" font-size="8.3" fill="#111" stroke="#111"><tspan font-style="italic">t</tspan><tspan font-style="italic" font-size="5.64" dy="1.8">ws</tspan><tspan dy="-1.8">=25.1ns</tspan></text>
<text x="417.30" y="242.70" font-size="8.3" fill="#111" stroke="#111"><tspan font-style="italic">t</tspan><tspan font-style="italic" font-size="5.64" dy="1.8">wm</tspan><tspan dy="-1.8">=25.6ns</tspan></text>
<text x="468.00" y="265.00" font-size="8.3" fill="#111" stroke="#111"><tspan font-style="italic">t</tspan><tspan font-style="italic" font-size="5.64" dy="1.8">fs</tspan><tspan dy="-1.8">=3.2ns</tspan></text>
<text x="468.00" y="277.00" font-size="8.3" fill="#111" stroke="#111"><tspan font-style="italic">t</tspan><tspan font-style="italic" font-size="5.64" dy="1.8">fm</tspan><tspan dy="-1.8">=3.1ns</tspan></text>
<line x1="99.20" y1="248.60" x2="99.20" y2="272.00" stroke="#333" stroke-width="1.0" stroke-dasharray="1.8 1.5"/>
<line x1="143.50" y1="248.60" x2="143.50" y2="271.00" stroke="#333" stroke-width="1.0" stroke-dasharray="1.8 1.5"/>
<line x1="148.90" y1="248.60" x2="148.90" y2="277.00" stroke="#333" stroke-width="1.0" stroke-dasharray="1.8 1.5"/>
<line x1="194.00" y1="248.60" x2="194.00" y2="272.00" stroke="#333" stroke-width="1.0" stroke-dasharray="1.8 1.5"/>
<line x1="363.30" y1="245.00" x2="363.30" y2="272.00" stroke="#333" stroke-width="1.0" stroke-dasharray="1.8 1.5"/>
<line x1="410.50" y1="245.00" x2="410.50" y2="282.00" stroke="#333" stroke-width="1.0" stroke-dasharray="1.8 1.5"/>
<line x1="414.20" y1="245.00" x2="414.20" y2="282.00" stroke="#333" stroke-width="1.0" stroke-dasharray="1.8 1.5"/>
<line x1="461.60" y1="246.00" x2="461.60" y2="279.00" stroke="#333" stroke-width="1.0" stroke-dasharray="1.8 1.5"/>
<rect x="121.7" y="36.9" width="53.0" height="135.6" rx="8.5" ry="8" fill="none" stroke="#000" stroke-width="1.5" stroke-dasharray="5 3.4"/>
<rect x="386.8" y="36.8" width="42.0" height="133.8" rx="7" ry="7" fill="none" stroke="#000" stroke-width="1.5" stroke-dasharray="5 3.4"/>
<line x1="123.80" y1="169.80" x2="48.99" y2="204.30" stroke="#000" stroke-width="1.5" stroke-dasharray="5 3.4"/>
<polygon points="44.0,206.6 47.9,201.9 50.1,206.7" fill="#000" />
<line x1="173.20" y1="170.30" x2="236.25" y2="204.01" stroke="#000" stroke-width="1.5" stroke-dasharray="5 3.4"/>
<polygon points="241.1,206.6 235.0,206.3 237.5,201.7" fill="#000" />
<line x1="387.40" y1="167.90" x2="317.60" y2="203.50" stroke="#000" stroke-width="1.5" stroke-dasharray="5 3.4"/>
<polygon points="312.7,206.0 316.4,201.2 318.8,205.8" fill="#000" />
<line x1="427.30" y1="168.40" x2="504.99" y2="203.53" stroke="#000" stroke-width="1.5" stroke-dasharray="5 3.4"/>
<polygon points="510.0,205.8 503.9,205.9 506.1,201.2" fill="#000" />
</svg>
</body></html>
